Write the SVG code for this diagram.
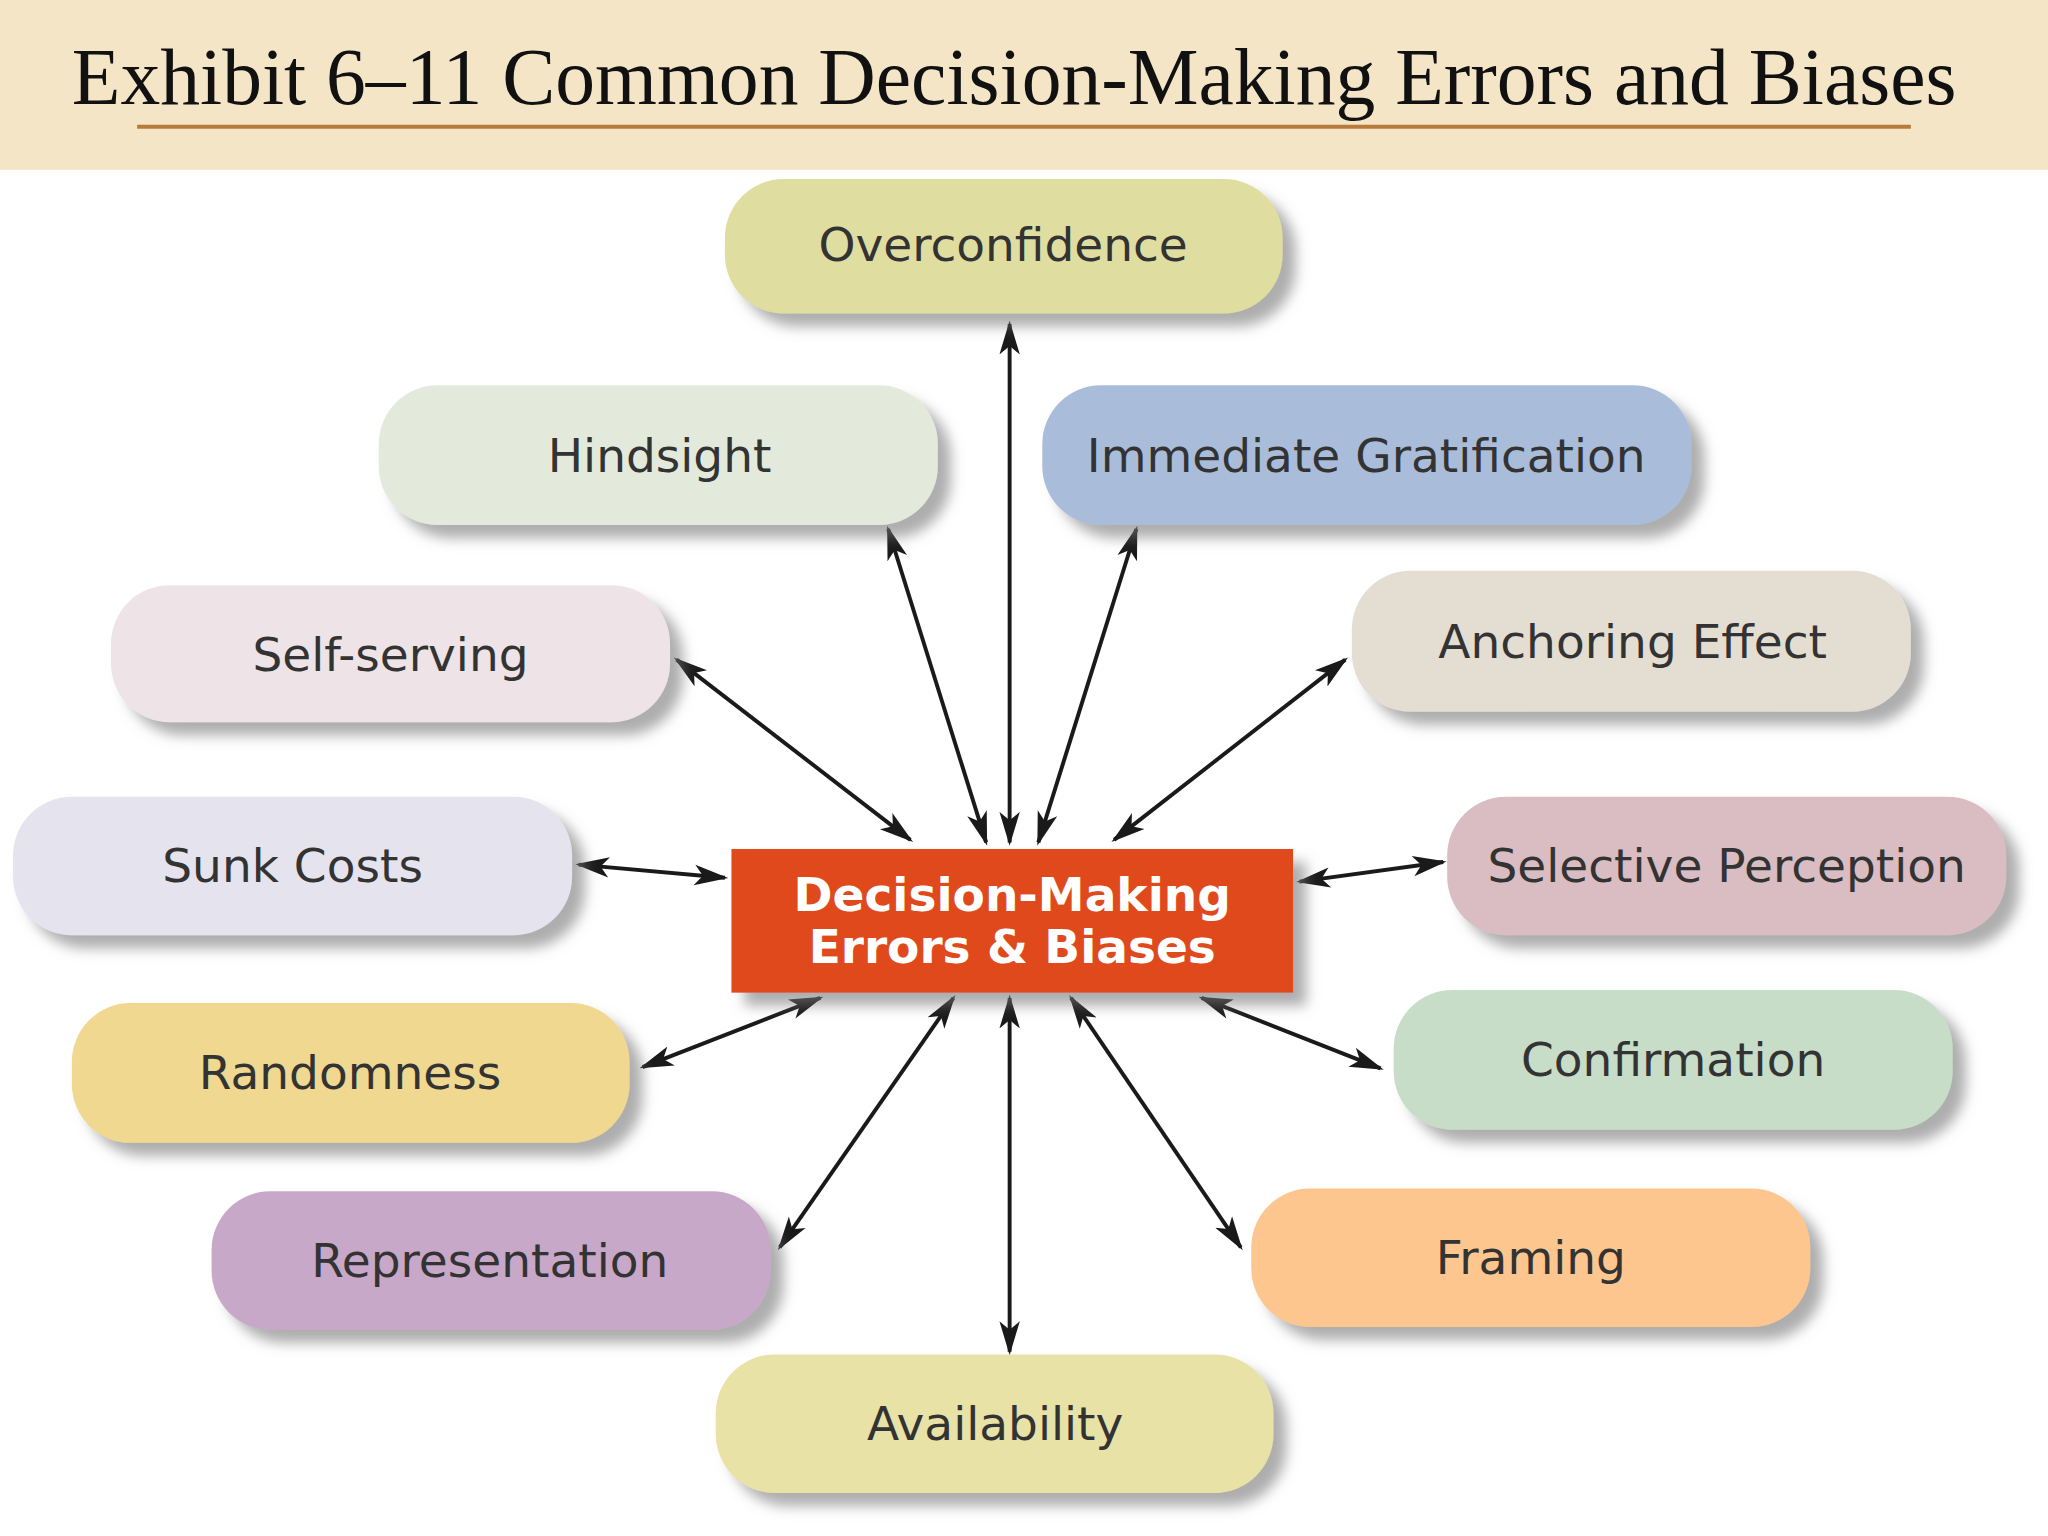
<svg xmlns="http://www.w3.org/2000/svg" width="2048" height="1536" viewBox="0 0 2048 1536">
<defs>
<filter id="sh" x="-10%" y="-20%" width="130%" height="150%"><feDropShadow dx="10" dy="10" stdDeviation="5" flood-color="#777" flood-opacity="0.6"/></filter>
<marker id="a" viewBox="0 0 10 10" refX="9" refY="5" markerWidth="26" markerHeight="26" orient="auto-start-reverse" markerUnits="userSpaceOnUse"><path d="M0,2 L10,5 L0,8 L2.5,5 Z" fill="#1a1a1a"/></marker>
</defs>
<style>
.n{filter:url(#sh)}
.t{font-family:"DejaVu Sans","Liberation Sans",sans-serif;font-size:36px;fill:#333;text-anchor:middle;dominant-baseline:central}
.c line{stroke:#1a1a1a;stroke-width:3;marker-start:url(#a);marker-end:url(#a)}
</style>
<rect width="2048" height="1536" fill="#fff"/>
<g transform="scale(1.30612)">
<rect x="0" y="0" width="1568" height="130" fill="#F3E5C6"/>
<text x="55" y="80" font-family="Liberation Serif,serif" font-size="61" fill="#111" textLength="1443" lengthAdjust="spacingAndGlyphs">Exhibit 6–11 Common Decision-Making Errors and Biases</text>
<line x1="105" y1="97" x2="1463" y2="97" stroke="#B87A3A" stroke-width="3"/>
<g class="c">
<line x1="773" y1="248" x2="773" y2="645"/>
<line x1="680" y1="405" x2="755" y2="645"/>
<line x1="870" y1="405" x2="795" y2="645"/>
<line x1="518" y1="505" x2="697" y2="643"/>
<line x1="1030" y1="505" x2="853" y2="643"/>
<line x1="443" y1="662" x2="555" y2="672"/>
<line x1="995" y1="675" x2="1105" y2="660"/>
<line x1="492" y1="817" x2="628" y2="764"/>
<line x1="920" y1="764" x2="1057" y2="818"/>
<line x1="597" y1="955" x2="730" y2="764"/>
<line x1="950" y1="955" x2="820" y2="764"/>
<line x1="773" y1="1035" x2="773" y2="764"/>
</g>
<g id="overconfidence"><rect class="n" x="555" y="137" width="427" height="103" rx="45" fill="#E0DDA0"/><text class="t" x="768" y="187">Overconfidence</text></g>
<g id="hindsight"><rect class="n" x="290" y="295" width="428" height="107" rx="45" fill="#E4EADB"/><text class="t" x="505" y="349">Hindsight</text></g>
<g id="immediate"><rect class="n" x="798" y="295" width="497" height="107" rx="45" fill="#A9BDDA"/><text class="t" x="1046" y="349">Immediate Gratification</text></g>
<g id="selfserving"><rect class="n" x="85" y="448" width="428" height="105" rx="45" fill="#EEE3E6"/><text class="t" x="299" y="501">Self-serving</text></g>
<g id="anchoring"><rect class="n" x="1035" y="437" width="428" height="108" rx="45" fill="#E3DDD2"/><text class="t" x="1250" y="491">Anchoring Effect</text></g>
<g id="sunk"><rect class="n" x="10" y="610" width="428" height="106" rx="45" fill="#E4E3EE"/><text class="t" x="224" y="663">Sunk Costs</text></g>
<g id="selective"><rect class="n" x="1108" y="610" width="428" height="106" rx="45" fill="#D9BDC3"/><text class="t" x="1322" y="663">Selective Perception</text></g>
<g id="randomness"><rect class="n" x="55" y="768" width="427" height="107" rx="45" fill="#F0D890"/><text class="t" x="268" y="821">Randomness</text></g>
<g id="confirmation"><rect class="n" x="1067" y="758" width="428" height="107" rx="45" fill="#C8DDC8"/><text class="t" x="1281" y="811">Confirmation</text></g>
<g id="representation"><rect class="n" x="162" y="912" width="428" height="106" rx="45" fill="#C8A8C8"/><text class="t" x="375" y="965">Representation</text></g>
<g id="framing"><rect class="n" x="958" y="910" width="428" height="106" rx="45" fill="#FDC68E"/><text class="t" x="1172" y="963">Framing</text></g>
<g id="availability"><rect class="n" x="548" y="1037" width="427" height="106" rx="45" fill="#E8E2A6"/><text class="t" x="762" y="1090">Availability</text></g>
<g id="center"><rect class="n" x="560" y="650" width="430" height="110" fill="#E04A1F"/>
<text class="t" x="775" y="685" style="fill:#fff;font-weight:bold">Decision-Making</text>
<text class="t" x="775" y="725" style="fill:#fff;font-weight:bold">Errors &amp; Biases</text></g>
</g>
</svg>
